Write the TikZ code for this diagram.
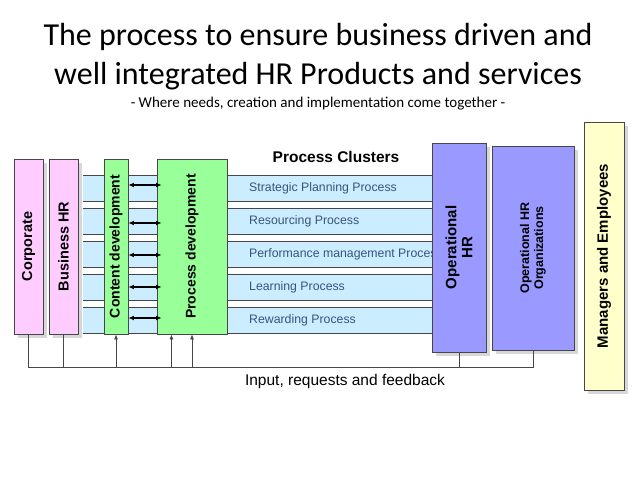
\documentclass[tikz,border=0pt]{standalone}
\usepackage{fontspec}
\setmainfont{Liberation Sans}
\newfontfamily\calibri{Carlito}
\usetikzlibrary{arrows.meta,shadows,calc}
\definecolor{pinkfill}{RGB}{255,204,255}
\definecolor{greenfill}{RGB}{153,255,153}
\definecolor{opfill}{RGB}{153,153,255}
\definecolor{yellowfill}{RGB}{255,255,204}
\definecolor{rowfill}{RGB}{204,236,255}
\definecolor{boxline}{RGB}{70,70,70}
\definecolor{rowtext}{RGB}{55,85,125}
\definecolor{shadowgray}{RGB}{215,215,215}
\begin{document}
\begin{tikzpicture}[x=1pt,y=-1pt,
  box/.style={draw=boxline,line width=0.9pt,inner sep=0pt,
    drop shadow={shadow xshift=4pt,shadow yshift=-4pt,fill=shadowgray,opacity=1}},
  plainbox/.style={draw=boxline,line width=0.9pt,inner sep=0pt},
  vtext/.style={rotate=90,font=\bfseries#1,align=center,inner sep=0pt},
  vtext/.default={\fontsize{14.5}{17}\selectfont},
  rowbox/.style={fill=rowfill,minimum width=349pt,minimum height=26pt,inner sep=0pt},
  rowline/.style={draw=boxline,line width=0.9pt},
  rowlabel/.style={anchor=west,text=rowtext,font=\fontsize{12.3}{14}\selectfont,inner sep=0pt},
  fb/.style={draw=boxline,line width=0.7pt},
  fbarrow/.style={fb,-{Latex[length=5pt,width=4pt]}},
  dbl/.style={draw=black,line width=1.1pt,{Latex[length=5.5pt,width=5pt]}-{Latex[length=5.5pt,width=5pt]}}
]
\useasboundingbox (0,0) rectangle (638,478);

% title
\node[font=\calibri\fontsize{32}{38}\selectfont,anchor=base] (t1) at (318,46) {The process to ensure business driven and};
\node[font=\calibri\fontsize{32}{38}\selectfont,anchor=base] (t2) at (318,85) {well integrated HR Products and services};
\node[font=\calibri\fontsize{15}{18}\selectfont,anchor=base] (t3) at (318,108) {- Where needs, creation and implementation come together -};

% process cluster rows
\node[font=\bfseries\fontsize{15.5}{18}\selectfont,anchor=base] (pc) at (336,163) {Process Clusters};
\foreach \i/\y/\t in {1/188.5/Strategic Planning Process,2/221.5/Resourcing Process,3/254.5/Performance management Process,4/287.5/Learning Process,5/320.5/Rewarding Process}{
  \node[rowbox] (r\i) at (257.5,\y) {};
  \draw[rowline] (r\i.north west) -- (r\i.north east);
  \draw[rowline] (r\i.south west) -- (r\i.south east);
  \node[rowlabel] (l\i) at (249,\y) {\t};
}

% left boxes
\node[box,fill=pinkfill,minimum width=29pt,minimum height=175pt] (corp) at (28.5,246.5) {};
\node[vtext] (corpt) at (corp) {Corporate};
\node[box,fill=pinkfill,minimum width=29pt,minimum height=175pt] (bhr) at (63.5,246.5) {};
\node[vtext] (bhrt) at (bhr) {Business HR};
\node[plainbox,fill=greenfill,minimum width=24pt,minimum height=175pt] (cd) at (116,246.5) {};
\node[vtext={\fontsize{14}{17}\selectfont}] (cdt) at (cd) {Content development};
\node[plainbox,fill=greenfill,minimum width=70pt,minimum height=175pt] (pd) at (192,246.5) {};
\node[vtext={\fontsize{14}{17}\selectfont}] (pdt) at (pd) {Process development};

% double arrows
\foreach \y in {185,223,255,287,318}{
  \draw[dbl] (cd.east |- 0,\y) -- ([xshift=5pt]pd.west |- 0,\y);
}

% right boxes
\node[box,fill=opfill,minimum width=54pt,minimum height=209pt] (ophr) at (459,247.5) {};
\node[vtext={\fontsize{15}{16}\selectfont}] (ophrt) at (ophr) {Operational\\HR};
\node[box,fill=opfill,minimum width=82pt,minimum height=204pt] (org) at (533,248) {};
\node[vtext={\fontsize{12.5}{14}\selectfont}] (orgt) at (org) {Operational HR\\Organizations};
\node[box,fill=yellowfill,minimum width=40pt,minimum height=268pt] (mgr) at (604,256) {};
\node[vtext={\fontsize{15}{17}\selectfont}] (mgrt) at (mgr) {Managers and Employees};

% feedback loop
\coordinate (fbl) at (0,367);
\draw[fb] (corp.south) -- (corp.south |- fbl) -| (org.south);
\draw[fb] (bhr.south) -- (bhr.south |- fbl);
\draw[fb] (ophr.south) -- (ophr.south |- fbl);
\draw[fbarrow] (cd.south |- fbl) -- (cd.south);
\coordinate (pdin) at ($(pd.south west)!0.21!(pd.south east)$);
\draw[fbarrow] (pdin |- fbl) -- (pdin);
\draw[fbarrow] (pd.south |- fbl) -- (pd.south);
\node[font=\fontsize{15.5}{18}\selectfont,anchor=base] (fbt) at (345,386) {Input, requests and feedback};
\end{tikzpicture}
\end{document}
